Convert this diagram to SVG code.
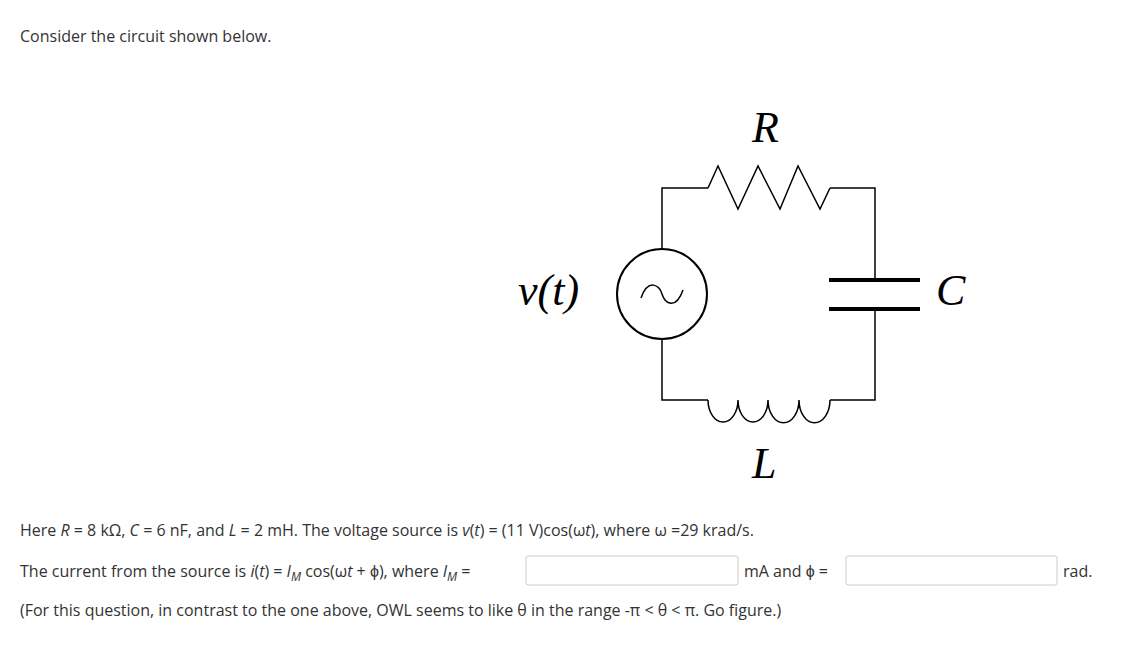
<svg xmlns="http://www.w3.org/2000/svg" width="1145" height="667" viewBox="0 0 1145 667">
<style>
.t{font-family:"Open Sans",sans-serif;font-size:16px;fill:#333}
.m{font-family:"Liberation Serif",serif;font-style:italic;font-size:44px;fill:#000}
.w{fill:none;stroke:#000;stroke-width:1.5}
.box{fill:#fff;stroke:#ccc;stroke-width:1}
</style>
<rect width="1145" height="667" fill="#fff"/>
<text class="t" x="20" y="42">Consider the circuit shown below.</text>
<g id="connectors">
<path class="w" d="M662,249 V188 H708 M830,188 H875 V279 M875,309 V400 H830 M708,400 H662 V339"/>
</g>
<g id="R"><path class="w" stroke-width="2" d="M708,188 L718,166 L738,209 L758,166 L780,209 L798,166 L820,209 L830,188"/><text class="m" x="752" y="142">R</text></g>
<g id="source"><circle cx="662" cy="294" r="45" fill="none" stroke="#000" stroke-width="2"/><path class="w" stroke-width="2" d="M641,298 C648,278 660,285 662,294 C665,304 676,310 683,290"/><text class="m" x="518" y="305">v(t)</text></g>
<g id="C"><path stroke="#000" stroke-width="4" d="M829,280 H920 M829,309 H920"/><text class="m" x="936" y="305">C</text></g>
<g id="L"><path class="w" stroke-width="2" d="M708,400 a15,22 0 0 0 30,0 a15,22 0 0 0 30,0 a15,22 0 0 0 31,0 a15,22 0 0 0 31,0"/><text class="m" x="752" y="478">L</text></g>
<text class="t" x="20" y="536">Here <tspan font-style="italic">R</tspan> = 8 kΩ, <tspan font-style="italic">C</tspan> = 6 nF, and <tspan font-style="italic">L</tspan>  = 2 mH. The voltage source is <tspan font-style="italic">v</tspan>(<tspan font-style="italic">t</tspan>) = (11 V)cos(ω<tspan font-style="italic">t</tspan>), where ω =29 krad/s.</text>
<text class="t" x="20" y="577">The current from the source is <tspan font-style="italic">i</tspan>(<tspan font-style="italic">t</tspan>) = <tspan font-style="italic">I</tspan><tspan font-style="italic" font-size="12" dy="4">M</tspan><tspan dy="-4"> cos(ω</tspan><tspan font-style="italic">t</tspan> + ϕ), where <tspan font-style="italic">I</tspan><tspan font-style="italic" font-size="12" dy="4">M</tspan><tspan dy="-4"> =</tspan></text>
<rect class="box" x="526" y="556" width="212" height="29" rx="2"/>
<text class="t" x="744" y="577">mA and ϕ =</text>
<rect class="box" x="846" y="556" width="211" height="29" rx="2"/>
<text class="t" x="1063" y="577">rad.</text>
<text class="t" x="20" y="616">(For this question, in contrast to the one above, OWL seems to like θ in the range -π &lt; θ &lt; π. Go figure.)</text>
</svg>
